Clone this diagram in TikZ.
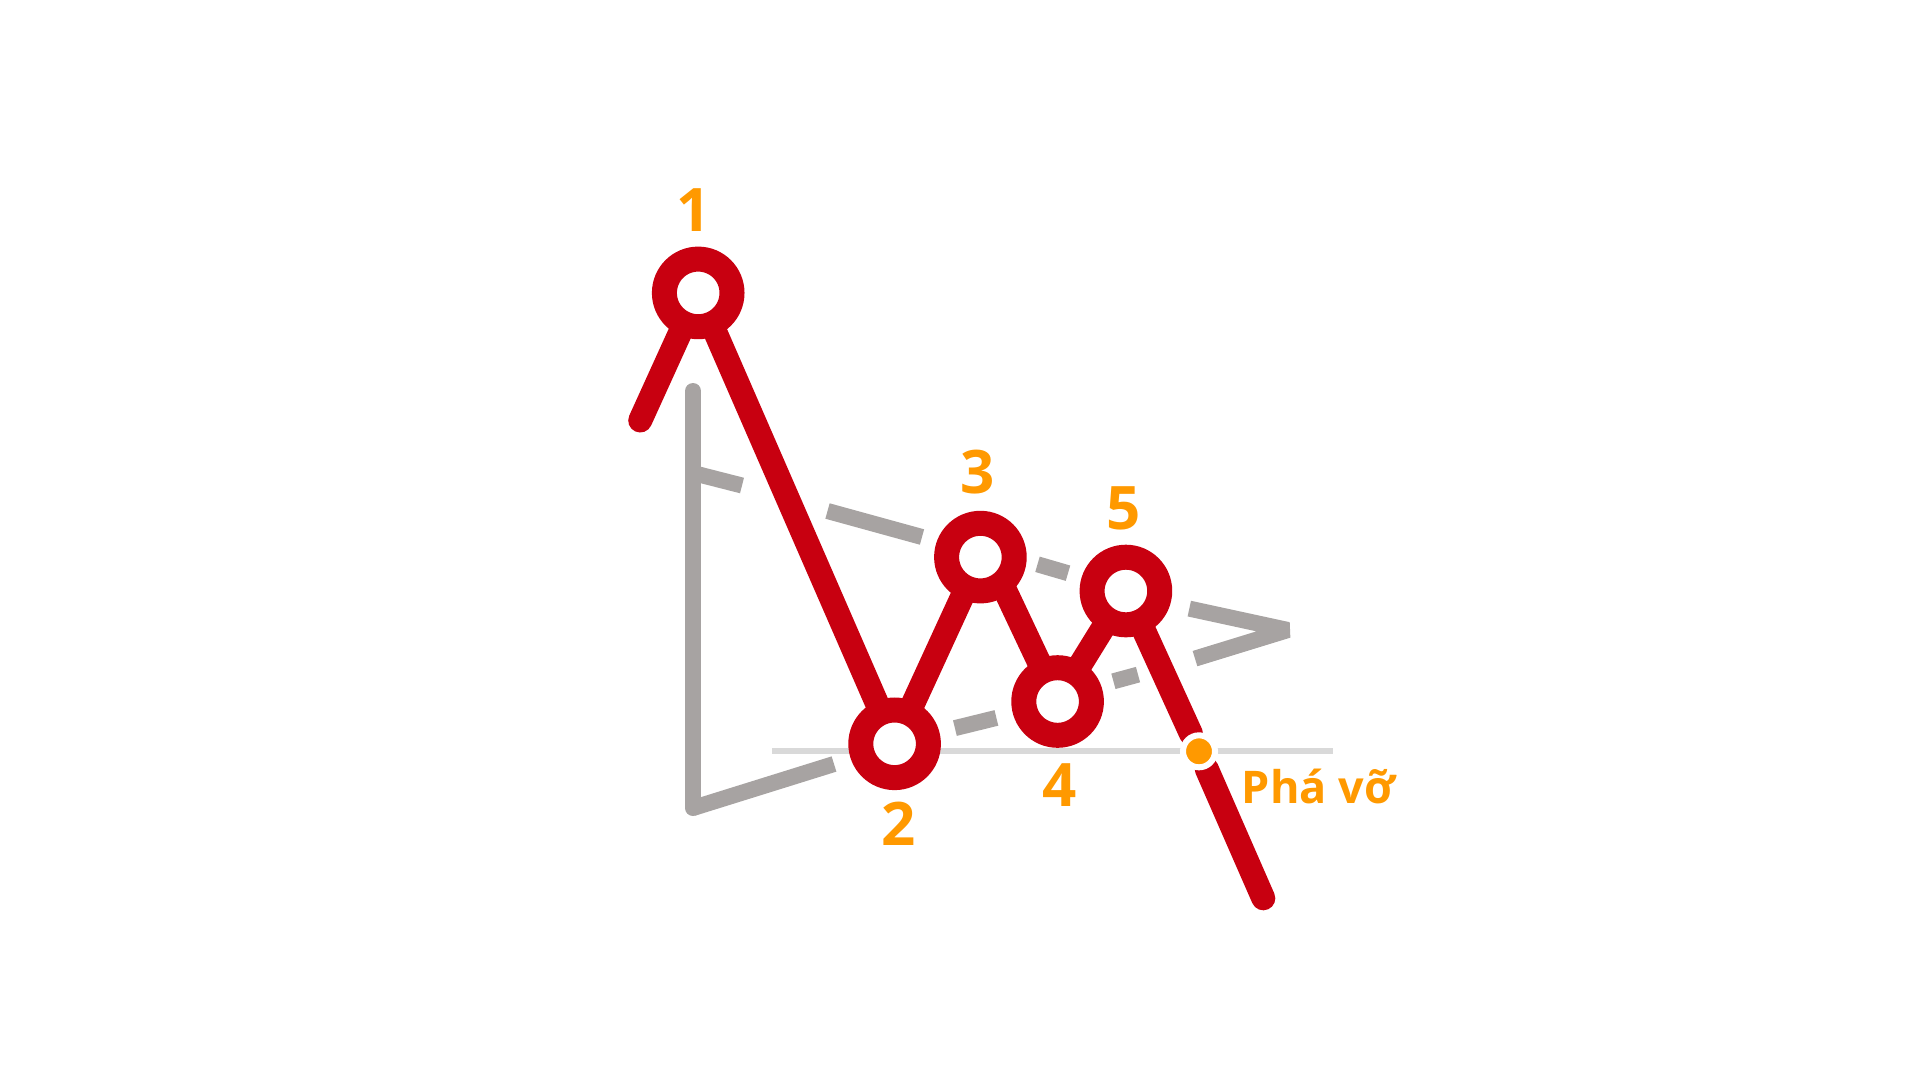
\documentclass[tikz,border=0pt]{standalone}
\usepackage{fontspec}
\setmainfont{Open Sans}
\definecolor{wavered}{RGB}{200,0,16}
\definecolor{waveorange}{RGB}{255,153,0}
\definecolor{guidegray}{RGB}{167,163,162}
\definecolor{necklinegray}{RGB}{217,217,217}
\pgfdeclarelayer{back}
\pgfdeclarelayer{mid}
\pgfsetlayers{back,mid,main}
\tikzset{
  pivot/.style={circle, draw=wavered, fill=white, line width=25pt,
    minimum size=67.6pt, inner sep=0pt},
  wave/.style={wavered, line width=24pt, line cap=round},
  guide/.style={guidegray, line width=16pt},
  neckline/.style={necklinegray, line width=6pt},
  breakdot/.style={circle, fill=waveorange, draw=white, line width=6pt,
    minimum size=32pt, inner sep=0pt},
  tag/.style={text=waveorange, inner sep=0pt,
    font=\bfseries\fontsize{60}{60}\selectfont},
  breaktag/.style={text=waveorange, inner sep=0pt, anchor=base west,
    font=\bfseries\fontsize{45}{45}\selectfont}
}
\begin{document}
\begin{tikzpicture}[x=1pt,y=-1pt]
  \useasboundingbox (0,0) rectangle (1920,1080);
  \draw
    (698.2,292.9) node[pivot] (p1){}
    (894.6,743.8) node[pivot] (p2){}
    (980.4,557.1) node[pivot] (p3){}
    (1057.6,701.5) node[pivot] (p4){}
    (1125.9,591.0) node[pivot] (p5){}
    (1199.0,751.3) node[breakdot] (brk){};
  \coordinate (head) at (640.2,420.5);
  \coordinate (tail) at (1263.3,898.3);
  \draw
    (693.8,210.5) node[tag] (n1){1}
    (899.0,823.7) node[tag] (n2){2}
    (977.2,472.5) node[tag] (n3){3}
    (1059.8,785.5) node[tag] (n4){4}
    (1123.3,508.7) node[tag] (n5){5}
    (1241.7,803.3) node[breaktag] (nbrk){Phá vỡ};
  % wedge and neckline behind the wave
  \begin{pgfonlayer}{back}
    \draw[neckline] (772,751.3) -- (1333.3,751.3);
    \draw[guide, line cap=round] (693,391) -- (693,808);
    \draw[guide] (693,808) -- (834,764);
    \draw[guide] (693,473) -- (742,485.5);
    \draw[guide] (827.5,511) -- (922,537);
    \draw[guide] (1037.5,564.3) -- (1068,573.2);
    \draw[guide] (954.9,728.1) -- (996.4,717.9);
    \draw[guide] (1113.4,681.3) -- (1138,674.6);
    \draw[guide, line join=bevel] (1189.3,608.6) -- (1288,630) -- (1195,658.6);
  \end{pgfonlayer}
  \begin{pgfonlayer}{mid}
    \begin{scope}[wave]
      \draw (head) to (p1.center);
      \draw (p1.center) to (p2.center);
      \draw (p2.center) to (p3.center);
      \draw ([xshift=9pt]p3.center) to (p4.center);
      \draw (p4.center) to (p5.center);
      \draw (p5.center) to (brk);
      \draw (brk) to (tail);
    \end{scope}
  \end{pgfonlayer}
\end{tikzpicture}
\end{document}
